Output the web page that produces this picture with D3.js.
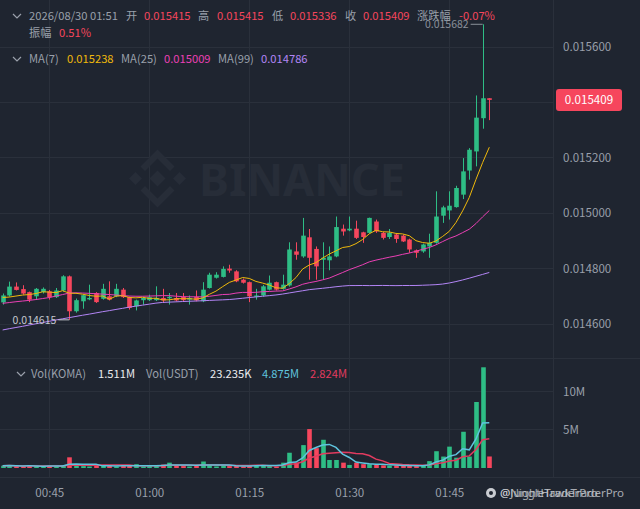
<!DOCTYPE html>
<html>
<head>
<meta charset="utf-8">
<script src="https://cdn.jsdelivr.net/npm/d3@7"></script>
<style>
  html, body { margin: 0; padding: 0; background: #1f2530; }
  svg { display: block; font-family: "Noto Sans CJK SC", "Noto Sans", sans-serif; }
</style>
</head>
<body>
<svg id="chart" width="640" height="509"></svg>
<script>
// 1m candles, KOMA/USDT, 00:38 -> 01:51
var firstTime = new Date(2026, 7, 30, 0, 38);

var opens = [
  0.014678, 0.014703, 0.014735, 0.014726, 0.014715, 0.014700, 0.014715, 0.014718, 0.014697, 0.014721,
  0.014772, 0.014646, 0.014682, 0.014689, 0.014712, 0.014691, 0.014700, 0.014700, 0.014724, 0.014697,
  0.014664, 0.014686, 0.014686, 0.014686, 0.014694, 0.014693, 0.014694, 0.014698, 0.014688, 0.014698,
  0.014682, 0.014730, 0.014767, 0.014770, 0.014800, 0.014790, 0.014760, 0.014751, 0.014698, 0.014703,
  0.014724, 0.014751, 0.014727, 0.014739, 0.014862, 0.014844, 0.014913, 0.014871, 0.014832, 0.014830,
  0.014844, 0.014944, 0.014938, 0.014944, 0.014931, 0.014929, 0.014970, 0.014929, 0.014914, 0.014923,
  0.014919, 0.014905, 0.014866, 0.014862, 0.014880, 0.014893, 0.014991, 0.015010, 0.015022, 0.015067,
  0.015154, 0.015223, 0.015343, 0.015415
];
var highs = [
  0.014710, 0.014753, 0.014750, 0.014740, 0.014717, 0.014730, 0.014732, 0.014723, 0.014730, 0.014776,
  0.014775, 0.014692, 0.014706, 0.014742, 0.014715, 0.014745, 0.014754, 0.014745, 0.014730, 0.014699,
  0.014688, 0.014697, 0.014706, 0.014736, 0.014727, 0.014712, 0.014712, 0.014712, 0.014703, 0.014721,
  0.014751, 0.014785, 0.014787, 0.014808, 0.014814, 0.014794, 0.014764, 0.014753, 0.014727, 0.014741,
  0.014775, 0.014753, 0.014778, 0.014895, 0.014895, 0.014983, 0.014943, 0.014880, 0.014895, 0.014880,
  0.014988, 0.014959, 0.014988, 0.014973, 0.014933, 0.014984, 0.014977, 0.014932, 0.014943, 0.014926,
  0.014923, 0.014908, 0.014869, 0.014890, 0.014926, 0.015079, 0.015027, 0.015079, 0.015099, 0.015199,
  0.015235, 0.015425, 0.015682, 0.015415
];
var lows = [
  0.014670, 0.014699, 0.014721, 0.014706, 0.014679, 0.014688, 0.014710, 0.014688, 0.014694, 0.014717,
  0.014615, 0.014641, 0.014655, 0.014686, 0.014676, 0.014688, 0.014685, 0.014697, 0.014694, 0.014652,
  0.014649, 0.014670, 0.014683, 0.014683, 0.014676, 0.014670, 0.014682, 0.014682, 0.014670, 0.014682,
  0.014679, 0.014728, 0.014764, 0.014768, 0.014785, 0.014751, 0.014746, 0.014679, 0.014688, 0.014699,
  0.014721, 0.014721, 0.014724, 0.014735, 0.014832, 0.014839, 0.014760, 0.014760, 0.014760, 0.014794,
  0.014841, 0.014919, 0.014935, 0.014907, 0.014893, 0.014926, 0.014929, 0.014905, 0.014907, 0.014893,
  0.014896, 0.014857, 0.014839, 0.014857, 0.014839, 0.014890, 0.014965, 0.014977, 0.015020, 0.015051,
  0.015121, 0.015169, 0.015305, 0.015336
];
var closes = [
  0.014703, 0.014735, 0.014723, 0.014710, 0.014688, 0.014727, 0.014727, 0.014697, 0.014721, 0.014772,
  0.014646, 0.014686, 0.014704, 0.014694, 0.014679, 0.014727, 0.014688, 0.014727, 0.014697, 0.014658,
  0.014685, 0.014694, 0.014697, 0.014694, 0.014685, 0.014698, 0.014685, 0.014686, 0.014694, 0.014685,
  0.014724, 0.014778, 0.014778, 0.014799, 0.014793, 0.014754, 0.014749, 0.014700, 0.014703, 0.014736,
  0.014749, 0.014724, 0.014742, 0.014869, 0.014850, 0.014919, 0.014839, 0.014808, 0.014839, 0.014844,
  0.014950, 0.014934, 0.014944, 0.014911, 0.014914, 0.014983, 0.014934, 0.014911, 0.014929, 0.014907,
  0.014898, 0.014869, 0.014857, 0.014887, 0.014893, 0.014988, 0.015021, 0.015027, 0.015091, 0.015151,
  0.015229, 0.015345, 0.015415, 0.015409
];
// volume in millions of KOMA
var volumes = [
  0.30, 0.35, 0.25, 0.20, 0.30, 0.25, 0.20, 0.30, 0.20, 0.35,
  1.40, 0.30, 0.25, 0.20, 0.30, 0.35, 0.30, 0.20, 0.25, 0.30,
  0.50, 0.20, 0.25, 0.30, 0.45, 0.70, 0.30, 0.25, 0.20, 0.30,
  0.85, 0.35, 0.20, 0.30, 0.25, 0.30, 0.20, 0.30, 0.40, 0.40,
  0.30, 0.20, 0.70, 2.00, 0.70, 3.00, 5.10, 2.60, 3.70, 1.05,
  1.05, 0.70, 0.40, 0.70, 0.50, 0.50, 0.40, 0.35, 0.30, 0.35,
  0.30, 0.30, 0.25, 0.30, 0.90, 2.20, 1.50, 2.80, 1.35, 4.75,
  1.50, 8.65, 13.20, 1.511
];

// MA values before the window is full (older candles are off screen)
var ma7Head = [0.0146955, 0.0146973, 0.0147009, 0.0147045, 0.0147063, 0.0147100];
var ma25Head = [
  0.0146746, 0.0146775, 0.0146804, 0.0146829, 0.0146854, 0.0146883, 0.0146919, 0.0146955,
  0.0147009, 0.0147063, 0.0147117, 0.0147125, 0.0147117, 0.0147107, 0.0147092, 0.0147078,
  0.0147063, 0.0147045, 0.0147027, 0.0147009, 0.0147002, 0.0147002, 0.0147009, 0.0147016
];
var ma99 = [
  0.0145784, 0.0145831, 0.0145874, 0.0145917, 0.0145964, 0.0146008, 0.0146054, 0.0146098, 0.0146145, 0.0146188,
  0.0146231, 0.0146274, 0.0146317, 0.0146357, 0.0146400, 0.0146444, 0.0146483, 0.0146526, 0.0146566, 0.0146609,
  0.0146645, 0.0146681, 0.0146717, 0.0146754, 0.0146779, 0.0146790, 0.0146800, 0.0146811, 0.0146822, 0.0146829,
  0.0146840, 0.0146851, 0.0146862, 0.0146872, 0.0146883, 0.0146905, 0.0146930, 0.0146955, 0.0146977, 0.0147002,
  0.0147024, 0.0147049, 0.0147081, 0.0147121, 0.0147161, 0.0147200, 0.0147240, 0.0147265, 0.0147290, 0.0147316,
  0.0147345, 0.0147370, 0.0147388, 0.0147388, 0.0147390, 0.0147386, 0.0147389, 0.0147392, 0.0147388, 0.0147385,
  0.0147389, 0.0147390, 0.0147391, 0.0147399, 0.0147409, 0.0147420, 0.0147442, 0.0147481, 0.0147532, 0.0147590,
  0.0147654, 0.0147723, 0.0147791, 0.0147860
];

var priceTicks = [0.0146, 0.0148, 0.0150, 0.0152, 0.0154, 0.0156];
var volTicks = [5, 10];

var upColor = "#2ebd85", downColor = "#f6465d";
var gridColor = "#2a303b", textColor = "#9aa0ab";
var maColors = { ma7: "#f0b90b", ma25: "#eb40b5", ma99: "#b385f6" };
var volMaColors = { ma5: "#5fc4de", ma10: "#e23b5f" };
var legendSize = 11.2, axisSize = 11.6;

var svg = d3.select("#chart");
var W = 640, plotRight = 553, priceBottom = 358, volBottom = 477;

var times = closes.map(function(d, i) { return d3.timeMinute.offset(firstTime, i); });

var x = d3.scaleTime()
  .domain([new Date(2026, 7, 30, 0, 45), new Date(2026, 7, 30, 1, 45)])
  .range([49.3, 449.3]);
var y = d3.scaleLinear().domain([0.0146, 0.0156]).range([324, 47]);
var yv = d3.scaleLinear().domain([0, 10]).range([468, 391.7]);
var bodyW = 4.6;

function movingAvg(values, n, head) {
  return values.map(function(d, i) {
    if (i >= n - 1) return d3.mean(values.slice(i - n + 1, i + 1));
    if (head) return head[i];
    return d3.mean(values.slice(0, i + 1));
  });
}
var ma7 = movingAvg(closes, 7, ma7Head);
var ma25 = movingAvg(closes, 25, ma25Head);
var volMa5 = movingAvg(volumes, 5);
var volMa10 = movingAvg(volumes, 10);

// background + clip areas
svg.append("rect").attr("width", W).attr("height", 509).attr("fill", "#1f2530");
var defs = svg.append("defs");
defs.append("clipPath").attr("id", "clipPrice")
  .append("rect").attr("x", 0).attr("y", 0).attr("width", plotRight).attr("height", priceBottom);
defs.append("clipPath").attr("id", "clipVol")
  .append("rect").attr("x", 0).attr("y", priceBottom).attr("width", plotRight).attr("height", volBottom - priceBottom);

// grid
var grid = svg.append("g").attr("stroke", gridColor).attr("shape-rendering", "crispEdges");
grid.selectAll(".hg").data(priceTicks).enter().append("line")
  .attr("x1", 0).attr("x2", plotRight)
  .attr("y1", function(d) { return y(d); }).attr("y2", function(d) { return y(d); });
grid.selectAll(".vg").data(volTicks).enter().append("line")
  .attr("x1", 0).attr("x2", plotRight)
  .attr("y1", function(d) { return yv(d); }).attr("y2", function(d) { return yv(d); });
grid.selectAll(".tg").data(x.ticks(d3.timeMinute.every(15))).enter().append("line")
  .attr("x1", function(d) { return x(d); }).attr("x2", function(d) { return x(d); })
  .attr("y1", 0).attr("y2", volBottom);
grid.append("line").attr("x1", 0).attr("x2", W).attr("y1", priceBottom).attr("y2", priceBottom);
grid.append("line").attr("x1", 0).attr("x2", W).attr("y1", volBottom).attr("y2", volBottom);
grid.append("line").attr("x1", plotRight).attr("x2", plotRight).attr("y1", 0).attr("y2", volBottom);

// watermark logo
var wm = svg.append("g").attr("fill", "#272d38").attr("transform", "translate(157.5,178.5)");
var logoShapes = [
  [[0, -8], [8, 0], [0, 8], [-8, 0]],
  [[-22, -6.5], [-15.5, 0], [-22, 6.5], [-28.5, 0]],
  [[22, -6.5], [28.5, 0], [22, 6.5], [15.5, 0]],
  [[0, -29], [17, -12], [12.5, -7.5], [0, -20], [-12.5, -7.5], [-17, -12]],
  [[0, 29], [17, 12], [12.5, 7.5], [0, 20], [-12.5, 7.5], [-17, 12]]
];
wm.selectAll("polygon").data(logoShapes).enter().append("polygon")
  .attr("points", function(d) { return d.join(" "); });
svg.append("text").attr("x", 199).attr("y", 196)
  .attr("font-family", "'Noto Sans', sans-serif").attr("font-weight", 700)
  .attr("font-size", 45).attr("fill", "#272d38").text("BINANCE");

// candles
var candles = svg.append("g").attr("clip-path", "url(#clipPrice)");
var cg = candles.selectAll(".candle").data(times).enter().append("g");
cg.append("line")
  .attr("x1", function(d) { return Math.round(x(d)) + 0.5; })
  .attr("x2", function(d) { return Math.round(x(d)) + 0.5; })
  .attr("y1", function(d, i) { return y(highs[i]); })
  .attr("y2", function(d, i) { return y(lows[i]); })
  .attr("stroke", function(d, i) { return closes[i] >= opens[i] ? upColor : downColor; });
cg.append("rect")
  .attr("x", function(d) { return Math.round(x(d)) + 0.5 - bodyW / 2; })
  .attr("y", function(d, i) { return y(Math.max(opens[i], closes[i])); })
  .attr("width", bodyW)
  .attr("height", function(d, i) { return Math.max(1, Math.abs(y(opens[i]) - y(closes[i]))); })
  .attr("fill", function(d, i) { return closes[i] >= opens[i] ? upColor : downColor; });

// moving averages
function drawLine(values, scale, color, width, clip) {
  svg.append("path")
    .datum(values)
    .attr("clip-path", clip)
    .attr("fill", "none")
    .attr("stroke", color)
    .attr("stroke-width", width)
    .attr("d", d3.line()
      .x(function(d, i) { return x(times[i]); })
      .y(function(d) { return scale(d); }));
}
drawLine(ma99, y, maColors.ma99, 1, "url(#clipPrice)");
drawLine(ma25, y, maColors.ma25, 1, "url(#clipPrice)");
drawLine(ma7, y, maColors.ma7, 1, "url(#clipPrice)");

// volume bars
svg.append("g").attr("clip-path", "url(#clipVol)")
  .selectAll("rect").data(volumes).enter().append("rect")
  .attr("x", function(d, i) { return Math.round(x(times[i])) + 0.5 - bodyW / 2; })
  .attr("y", function(d) { return yv(d); })
  .attr("width", bodyW)
  .attr("height", function(d) { return yv(0) - yv(d); })
  .attr("fill", function(d, i) { return closes[i] >= opens[i] ? upColor : downColor; });
drawLine(volMa10, yv, volMaColors.ma10, 1.5, "url(#clipVol)");
drawLine(volMa5, yv, volMaColors.ma5, 1.5, "url(#clipVol)");

// high / low markers
var iHigh = d3.maxIndex(highs), iLow = d3.minIndex(lows);
var fmt6 = d3.format(".6f");
var hx = x(times[iHigh]), lx = x(times[iLow]);
svg.append("line").attr("x1", hx - 12).attr("x2", hx).attr("y1", y(highs[iHigh])).attr("y2", y(highs[iHigh]))
  .attr("stroke", "#8a909a");
svg.append("text").attr("x", hx - 14).attr("y", y(highs[iHigh])).attr("dy", "0.35em")
  .attr("text-anchor", "end").attr("font-size", 10.5).attr("fill", "#8a909a").text(fmt6(highs[iHigh]));
svg.append("line").attr("x1", lx - 11).attr("x2", lx).attr("y1", y(lows[iLow])).attr("y2", y(lows[iLow]))
  .attr("stroke", "#c4c8cf");
svg.append("text").attr("x", lx - 13).attr("y", y(lows[iLow])).attr("dy", "0.35em")
  .attr("text-anchor", "end").attr("font-size", 10.5).attr("fill", "#c4c8cf").text(fmt6(lows[iLow]));

// axes
var priceAxis = svg.append("g").attr("transform", "translate(" + plotRight + ",0)")
  .call(d3.axisRight(y).tickValues(priceTicks).tickFormat(fmt6).tickSize(0).tickPadding(10));
var volAxis = svg.append("g").attr("transform", "translate(" + plotRight + ",0)")
  .call(d3.axisRight(yv).tickValues(volTicks).tickFormat(function(d) { return d + "M"; }).tickSize(0).tickPadding(10));
var timeAxis = svg.append("g").attr("transform", "translate(0," + volBottom + ")")
  .call(d3.axisBottom(x).ticks(d3.timeMinute.every(15)).tickFormat(d3.timeFormat("%H:%M")).tickSize(0).tickPadding(12));
[priceAxis, volAxis, timeAxis].forEach(function(a) {
  a.select(".domain").remove();
  a.selectAll("text").attr("fill", textColor).attr("font-size", axisSize)
    .attr("font-family", "'Noto Sans CJK SC', sans-serif");
});
// the 0.015400 label sits under the last price tag
priceAxis.selectAll(".tick").filter(function(d) { return d === 0.0154; }).remove();

// last price tag
var last = closes.length - 1;
var lastColor = closes[last] >= opens[last] ? upColor : downColor;
svg.append("rect").attr("x", 556).attr("y", y(closes[last]) - 11).attr("width", 66).attr("height", 22)
  .attr("rx", 3).attr("fill", lastColor);
svg.append("text").attr("x", 589).attr("y", y(closes[last])).attr("dy", "0.35em")
  .attr("text-anchor", "middle").attr("font-size", axisSize).attr("fill", "#ffffff").text(fmt6(closes[last]));

// legends
function chevron(cx, cy) {
  svg.append("path").attr("d", "M" + (cx - 4) + "," + (cy - 2) + "L" + cx + "," + (cy + 2) + "L" + (cx + 4) + "," + (cy - 2))
    .attr("fill", "none").attr("stroke", textColor).attr("stroke-width", 1.2);
}
function label(items, cy) {
  items.forEach(function(t) {
    svg.append("text").attr("x", t[0]).attr("y", cy).attr("dy", "0.35em")
      .attr("font-size", legendSize).attr("fill", t[2] || textColor).text(t[1]);
  });
}
var red = downColor;
chevron(17, 16);
label([
  [29, "2026/08/30 01:51"], [126, "开"], [144, "0.015415", red], [198, "高"], [217, "0.015415", red],
  [272, "低"], [290, "0.015336", red], [345, "收"], [363, "0.015409", red], [417, "涨跌幅"], [459, "-0.07%", red]
], 16);
label([[29, "振幅"], [59, "0.51%", red]], 33);
chevron(17, 59);
label([
  [29, "MA(7)"], [67, "0.015238", maColors.ma7], [121, "MA(25)"], [164, "0.015009", maColors.ma25],
  [218, "MA(99)"], [261, "0.014786", maColors.ma99]
], 59);
chevron(21, 374);
label([
  [31, "Vol(KOMA)"], [98, "1.511M", "#eaecef"], [146, "Vol(USDT)"], [210, "23.235K", "#eaecef"],
  [262, "4.875M", volMaColors.ma5], [310, "2.824M", volMaColors.ma10]
], 374);

// overlay handle bottom right (two handles printed over each other)
svg.append("circle").attr("cx", 491).attr("cy", 493).attr("r", 5).attr("fill", "#c9ccd1");
svg.append("circle").attr("cx", 491).attr("cy", 493).attr("r", 2).attr("fill", "#1f2530");
["@NightHawkTraderPro", "@JungleTraderPro"].forEach(function(t) {
  svg.append("text").attr("x", 500).attr("y", 493).attr("dy", "0.35em").attr("font-size", 11.5)
    .attr("font-family", "'Noto Sans', sans-serif").attr("fill", "#c9ccd1").attr("opacity", 0.8).text(t);
});
</script>
</body>
</html>
